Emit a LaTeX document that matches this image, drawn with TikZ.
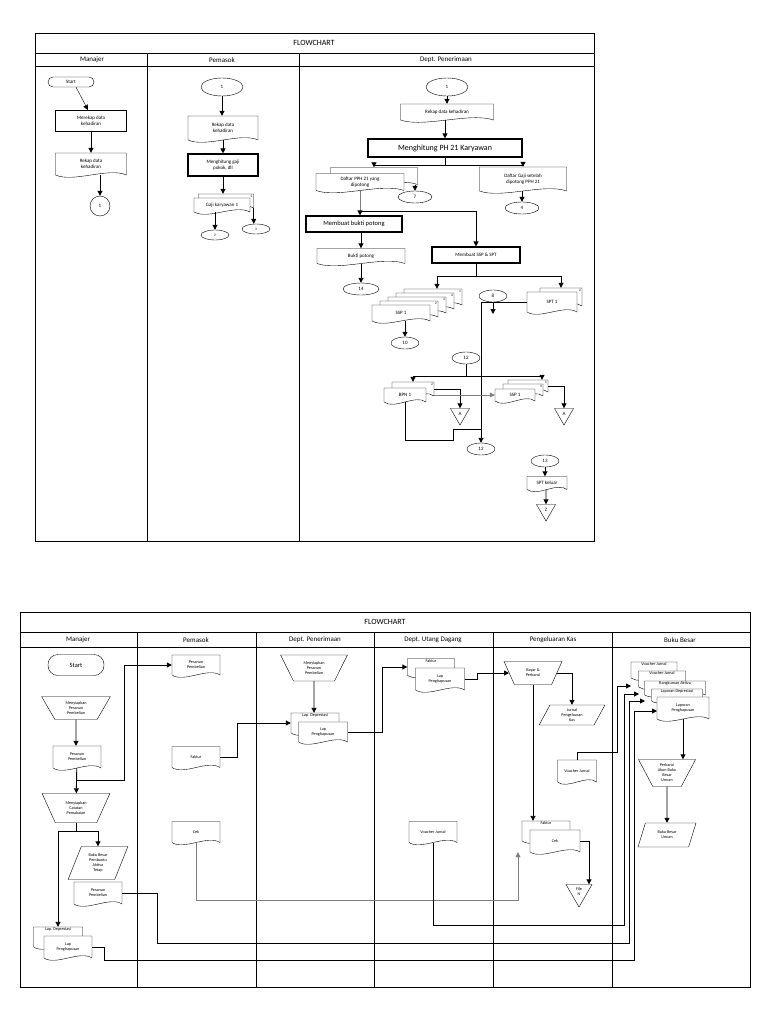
\documentclass[tikz,border=0pt]{standalone}
\usepackage{fontspec}
\setmainfont{Carlito}
\usetikzlibrary{positioning,calc,shapes.geometric,arrows.meta}
\tikzset{
	every node/.style={font=\fontsize{5}{6}\selectfont, align=center},
	small/.style={font=\fontsize{4.2}{5}\selectfont},
	head/.style={font=\fontsize{7}{8}\selectfont},
	proc/.style={draw, line width=1.1pt, rectangle, inner sep=1pt},
	term/.style={draw, ellipse, inner sep=0pt},
	docbox/.style={inner sep=0pt},
	docline/.style={draw, fill=white, line width=0.4pt},
	manual/.style={draw, trapezium, shape border rotate=180, trapezium stretches=true,
		trapezium left angle=63, trapezium right angle=63, inner sep=0pt, small},
	para/.style={draw, trapezium, trapezium stretches=true, trapezium left angle=68,
		trapezium right angle=112, inner sep=0pt, small},
	tri/.style={draw, regular polygon, regular polygon sides=3, shape border rotate=180,
		inner sep=0pt, minimum size=22},
	arr/.style={-{Triangle[length=5pt,width=5pt]}, line width=0.9pt},
	num/.style={font=\fontsize{3.5}{4}\selectfont, inner sep=1pt},
}
% dokumen dengan tepi bawah bergelombang
\newcommand\dokumen[6][]{%
	\draw[docline] ($(#3)+(-#4/2,#5/2)$) -- ($(#3)+(-#4/2,-#5/2)$) -- ($(#3)+(#4/2,-#5/2)$)
		-- ($(#3)+(#4/2,#5/2)$) .. controls ($(#3)+(#4/4,#5/2-8)$) and ($(#3)+(-#4/4,#5/2+8)$) .. cycle;
	\node[docbox, minimum width=#4, minimum height=#5, #1] (#2) at (#3) {#6};}
\begin{document}
\begin{tikzpicture}[x=1pt, y=-1pt]
	\useasboundingbox (0,0) rectangle (768,1024);
	% ===== flowchart atas =====
	\draw (35,33) rectangle (594,541);
	\draw (35,53) -- (594,53);
	\draw (35,66) -- (594,66);
	\draw (147,53) -- (147,541);
	\draw (299,53) -- (299,541);
	\node[font=\fontsize{8}{9}\selectfont] (judul1) at (314,43) {FLOWCHART};
	\node[head] (h1) at (92,60) {Manajer};
	\node[head] (h2) at (222,60) {Pemasok};
	\node[head] (h3) at (446,60) {Dept. Penerimaan};
	% manajer
	\node[draw, rounded corners=5, minimum width=46, minimum height=10, inner sep=0pt] (mstart) at (71,82) {Start};
	\node[proc, minimum width=71, minimum height=21] (mrekap) at (91,121) {Merekap data\\kehadiran};
	\draw[-{Triangle[length=5pt,width=5pt]}, thin] ([xshift=5]mstart.south) -- ([xshift=-3]mrekap.north);
	\dokumen{mdok}{91,164}{71}{22}{Rekap data\\kehadiran}
	\node[draw, circle, minimum size=20, inner sep=0pt] (mc1) at (100,206) {1};
	\draw[arr] (mrekap) -- (mrekap.south |- mdok.north);
	\draw[arr] (mdok.south -| mc1) -- (mc1);
	% pemasok
	\node[term, minimum width=42, minimum height=18] (pe1) at (222,87) {1};
	\dokumen{pdok}{223,128}{70}{24}{Rekap data\\kehadiran}
	\node[proc, minimum width=70, minimum height=22] (phit) at (223,165) {Menghitung gaji\\pokok, dll};
	\dokumen[label={[num,anchor=north east]north east:2}]{pgb}{226,201}{55}{14}{}
	\dokumen{pgf}{222,205}{56}{14}{Gaji karyawan 1}
	\node[term, minimum width=28, minimum height=10, num] (pe2) at (215,235) {2};
	\node[term, minimum width=28, minimum height=10, num] (pe3) at (256,229) {3};
	\draw[arr] (pe1) -- (pe1.south |- pdok.north);
	\draw[arr] (pdok.south -| phit) -- (phit.north);
	\draw[arr] (phit) -- (phit.south |- pgb.north);
	\draw[arr] (pgf.south -| pe2) -- (pe2);
	\draw[arr] (pgb.south east) -- (pgb.south east |- pe3.north);
	% dept. penerimaan
	\node[term, minimum width=42, minimum height=18] (de1) at (447,87) {1};
	\dokumen{ddok}{447,112}{93}{16}{Rekap data kehadiran}
	\node[proc, minimum width=154, minimum height=18, font=\fontsize{8}{9}\selectfont] (dhit) at (445,148) {Menghitung PH 21 Karyawan};
	\dokumen{dpphb}{374,176}{87}{17}{}
	\dokumen{dpphf}{360,182}{88}{17}{Daftar PPH 21 yang\\dipotong}
	\dokumen{dgaji}{523,179}{87}{24}{Daftar Gaji setelah\\dipotong PPH 21}
	\node[term, minimum width=34, minimum height=12] (d7) at (415,197) {7};
	\node[term, minimum width=34, minimum height=12] (d4) at (522,208) {4};
	\draw[arr] (de1) -- (de1.south |- ddok.north);
	\draw[arr] (ddok.south -| dhit) -- (dhit.north);
	\draw (dhit.south) -- ++(0,8) coordinate (j1);
	\draw[arr] (j1) -| (dpphb.north);
	\draw[arr] (j1) -| (dgaji.north);
	\draw[arr] (dpphb.south -| d7) -- (d7);
	\draw[arr] (dgaji.south -| d4) -- (d4);
	\node[proc, minimum width=96, minimum height=16, font=\fontsize{6.5}{7}\selectfont] (dbukti) at (354,224) {Membuat bukti potong};
	\node[proc, minimum width=88, minimum height=16] (dssp) at (476,255) {Membuat SSP \& SPT};
	\draw[gray] (dpphf.south) -- ++(0,21) coordinate (j2);
	\draw[arr] (j2) -- (j2 |- dbukti.north);
	\draw[arr] (j2) -| (dssp.north);
	\dokumen{dbpot}{361,256}{88}{15}{Bukti potong}
	\node[term, minimum width=36, minimum height=12] (d14) at (361,289) {14};
	\draw[arr] (dbukti.south -| dbpot) -- (dbpot.north);
	\draw[arr] (dbpot.south) -- (d14);
	% tumpukan SSP
	\dokumen[label={[num,anchor=north east]north east:1}]{ssp4}{433,297}{58}{16}{}
	\dokumen[label={[num,anchor=north east]north east:4}]{ssp3}{425,301}{58}{16}{}
	\dokumen[label={[num,anchor=north east]north east:3}]{ssp2}{417,305}{58}{16}{}
	\dokumen[label={[num,anchor=north east]north east:2}]{ssp1}{409,309}{58}{16}{}
	\dokumen{ssp0}{401,313}{58}{16}{SSP 1}
	\dokumen[label={[num,anchor=north east]north east:2}]{dsptb}{561,297}{42}{18}{}
	\dokumen{dsptf}{552,302}{50}{20}{SPT 1}
	\draw (dssp.south) -- ++(0,13) coordinate (j3);
	\draw[arr] (j3) -| ([xshift=4]ssp4.north);
	\draw[arr] (j3) -| (dsptb.north);
	\node[term, minimum width=28, minimum height=12] (d10) at (405,343) {10};
	\draw[arr] (ssp0.south -| d10) -- (d10);
	\node[term, minimum width=28, minimum height=12] (d8) at (493,296) {8};
	\coordinate (d8e) at (493,314);
	\draw[arr] (d8) -- (d8e);
	\node[term, minimum width=28, minimum height=12] (d12b) at (481,449) {12};
	\draw[arr] (dsptf.west) -| (d12b);
	\node[term, minimum width=28, minimum height=12] (d12a) at (466,358) {12};
	\dokumen[label={[num,anchor=north east]north east:2}]{bpnb}{413,389}{42}{14}{}
	\dokumen{bpnf}{405,395}{42}{14}{BPN 1}
	\dokumen[label={[num,anchor=north east]north east:5}]{s2b2}{528,386}{40}{12}{}
	\dokumen[label={[num,anchor=north east]north east:3}]{s2b1}{523,390}{40}{12}{}
	\dokumen{s2f}{515,395}{40}{12}{SSP 1}
	\draw (d12a.south) -- ++(0,12) coordinate (j4);
	\draw[arr] (j4) -| (bpnb.north);
	\draw[arr] (j4) -| ([xshift=14]s2b2.north);
	\node[tri] (triA1) at (460,414) {\tiny A};
	\node[tri] (triA2) at (564,414) {\tiny A};
	\draw[arr] (bpnb.east) -| (triA1);
	\draw[-{Triangle[length=5pt,width=5pt]}, gray, thin] (bpnb.east |- s2f) -- (s2f.west);
	\draw[arr] (s2b2.east) -| (triA2);
	\coordinate (k1) at (481,429);
	\draw[line width=0.9pt] (bpnf.south) |- (453,440) |- (k1);
	\node[term, minimum width=28, minimum height=12] (d13) at (545,461) {13};
	\dokumen{dsk}{547,483}{40}{13}{SPT keluar}
	\node[tri] (triZ) at (546,510) {\tiny Z};
	\draw[arr] (d13) -- (d13.south |- dsk.north);
	\draw[arr] (dsk.south -| triZ) -- (triZ);
	% ===== flowchart bawah =====
	\draw (20,612) rectangle (750,987);
	\draw (20,632) -- (750,632);
	\draw (20,647) -- (750,647);
	\foreach \xl in {137,256,374,493,612}
		\draw (\xl,632) -- (\xl,987);
	\node[font=\fontsize{8}{9}\selectfont] (judul2) at (385,622) {FLOWCHART};
	\node[head] (g1) at (78,640) {Manajer};
	\node[head] (g2) at (196,640) {Pemasok};
	\node[head] (g3) at (315,640) {Dept. Penerimaan};
	\node[head] (g4) at (433,640) {Dept. Utang Dagang};
	\node[head] (g5) at (553,640) {Pengeluaran Kas};
	\node[head] (g6) at (680,640) {Buku Besar};
	% manajer
	\node[draw, rounded corners=10, minimum width=56, minimum height=21, font=\fontsize{6.5}{7}\selectfont] (m2start) at (76,665) {Start};
	\node[manual, minimum width=69, minimum height=23] (mop1) at (76,708) {Menyiapkan\\Pesanan\\Pembelian};
	\dokumen[small]{mpes}{77,757}{48}{22}{Pesanan\\Pembelian}
	\node[manual, minimum width=68, minimum height=29] (mop2) at (76,808) {Menyiapkan\\Catatan\\Pemakaian};
	\dokumen[small]{ppes}{196,665}{48}{20}{Pesanan\\Pembelian}
	\draw[arr] (mop1) -- (mop1.south |- mpes.north);
	\draw[arr] (mpes) -- (mop2);
	\coordinate (m1) at (77,780);
	\draw[arr] (m1) -| ($(ppes.west)+(-47,0)$) -- (ppes.west);
	\node[para, minimum width=60, minimum height=33] (mbbp) at (98,863) {Buku Besar\\Pembantu\\Aktiva\\Tetap};
	\dokumen[label={[small,anchor=north,inner sep=1pt]north:Lap. Depresiasi}]{mlapb}{58,937}{49}{20}{}
	\dokumen[small]{mlapf}{68,947}{48}{22}{Lap\\Penghapusan}
	\draw (mop2.south) -- ++(0,9) coordinate (m2);
	\draw[arr] (m2) -| (mlapb.north);
	\draw[arr] (m2) -| (mbbp.north);
	\dokumen[small]{mpes2}{98,893}{48}{22}{Pesanan\\Pembelian}
	% pemasok
	\dokumen[small]{pfak}{196,757}{48}{21}{Faktur}
	\dokumen[small]{pcek}{196,832}{48}{21}{Cek}
	% dept. penerimaan
	\node[manual, minimum width=67, minimum height=26] (dop) at (314,668) {Menyiapkan\\Pesanan\\Pembelian};
	\dokumen[label={[small,anchor=north,inner sep=1pt]north:Lap. Depresiasi}]{dlapb}{315,723}{48}{20}{}
	\dokumen[small]{dlapf}{323,732}{49}{20}{Lap\\Penghapusan}
	\draw[arr] (dop) -- (dop.south |- dlapb.north);
	\draw[arr] (pfak.east) -- ++(17,0) |- (dlapb.west);
	% dept. utang dagang
	\dokumen[label={[small,anchor=north,inner sep=1pt]north:Faktur}]{ulapb}{431,667}{47}{17}{}
	\dokumen[small]{ulapf}{440,679}{49}{22}{Lap\\Penghapusan}
	\draw[arr] (dlapf.east) -- ++(35,0) |- (ulapb.west);
	\dokumen[small]{uvj}{433,832}{48}{21}{Voucher Jurnal}
	% pengeluaran kas
	\node[manual, minimum width=58, minimum height=23] (kbayar) at (533,673) {Bayar \&\\Perbarui};
	\draw[arr] (ulapf.east) -- ++(13,0) |- (kbayar.west);
	\node[para, minimum width=66, minimum height=20] (kjur) at (572,715) {Jurnal\\Pengeluaran\\Kas};
	\draw[arr] (kbayar.east) -| (kjur.north);
	\dokumen[small]{kvj}{577,771}{39}{22}{Voucher Jurnal}
	\dokumen[label={[small,anchor=north,inner sep=1pt]north:Faktur}]{kcekb}{546,831}{48}{20}{}
	\dokumen[small]{kcekf}{555,841}{50}{22}{Cek}
	\draw[arr] (kbayar.south) -- (kbayar.south |- kcekb.north);
	\node[tri, minimum size=30, small] (kfile) at (579,892) {File\\N};
	\draw[arr] (kcekf.east) -| ([xshift=10]kfile.north);
	\coordinate (gc) at (518,900);
	\draw[-{Triangle[length=5pt,width=5pt]}, gray] (pcek.south) |- (gc) -- (gc |- kcekf.south);
	% buku besar
	\dokumen[label={[small,anchor=north,inner sep=1pt]north:Voucher Jurnal}]{bb1}{654,670}{46}{16}{}
	\dokumen[label={[small,anchor=north,inner sep=1pt]north:Voucher Jurnal}]{bb2}{662,679}{47}{16}{}
	\dokumen[label={[small,anchor=north,inner sep=1pt]north:Rangkuman Aktiva}]{bb3}{675,688}{61}{14}{}
	\dokumen[label={[small,anchor=north,inner sep=1pt]north:Laporan Depresiasi}]{bb4}{677,695}{51}{12}{}
	\dokumen[small]{bb5}{683,708}{52}{22}{Laporan\\Penghapusan}
	\coordinate (t1) at (631,686);
	\coordinate (t2) at (639,694);
	\coordinate (t3) at (645,701);
	\coordinate (t4) at (657,711);
	\draw[arr] (kvj.north) |- (617,752) |- (t1);
	\draw[arr] (uvj.south) |- (624,925) |- (t2);
	\draw[arr] (mpes2.east) -- ++(35,0) |- (629,943) |- (t3);
	\draw[arr] (mlapf.east) -- ++(12,0) |- (634,960) |- (t4);
	\node[manual, minimum width=57, minimum height=27] (bperb) at (667,773) {Perbarui\\Akun Buku\\Besar\\Umum};
	\node[para, minimum width=58, minimum height=24] (bbu) at (667,835) {Buku Besar\\Umum};
	\draw[arr] (bb5.south) -- (bb5.south |- bperb.north);
	\draw[arr] (bperb) -- (bbu);
\end{tikzpicture}
\end{document}
